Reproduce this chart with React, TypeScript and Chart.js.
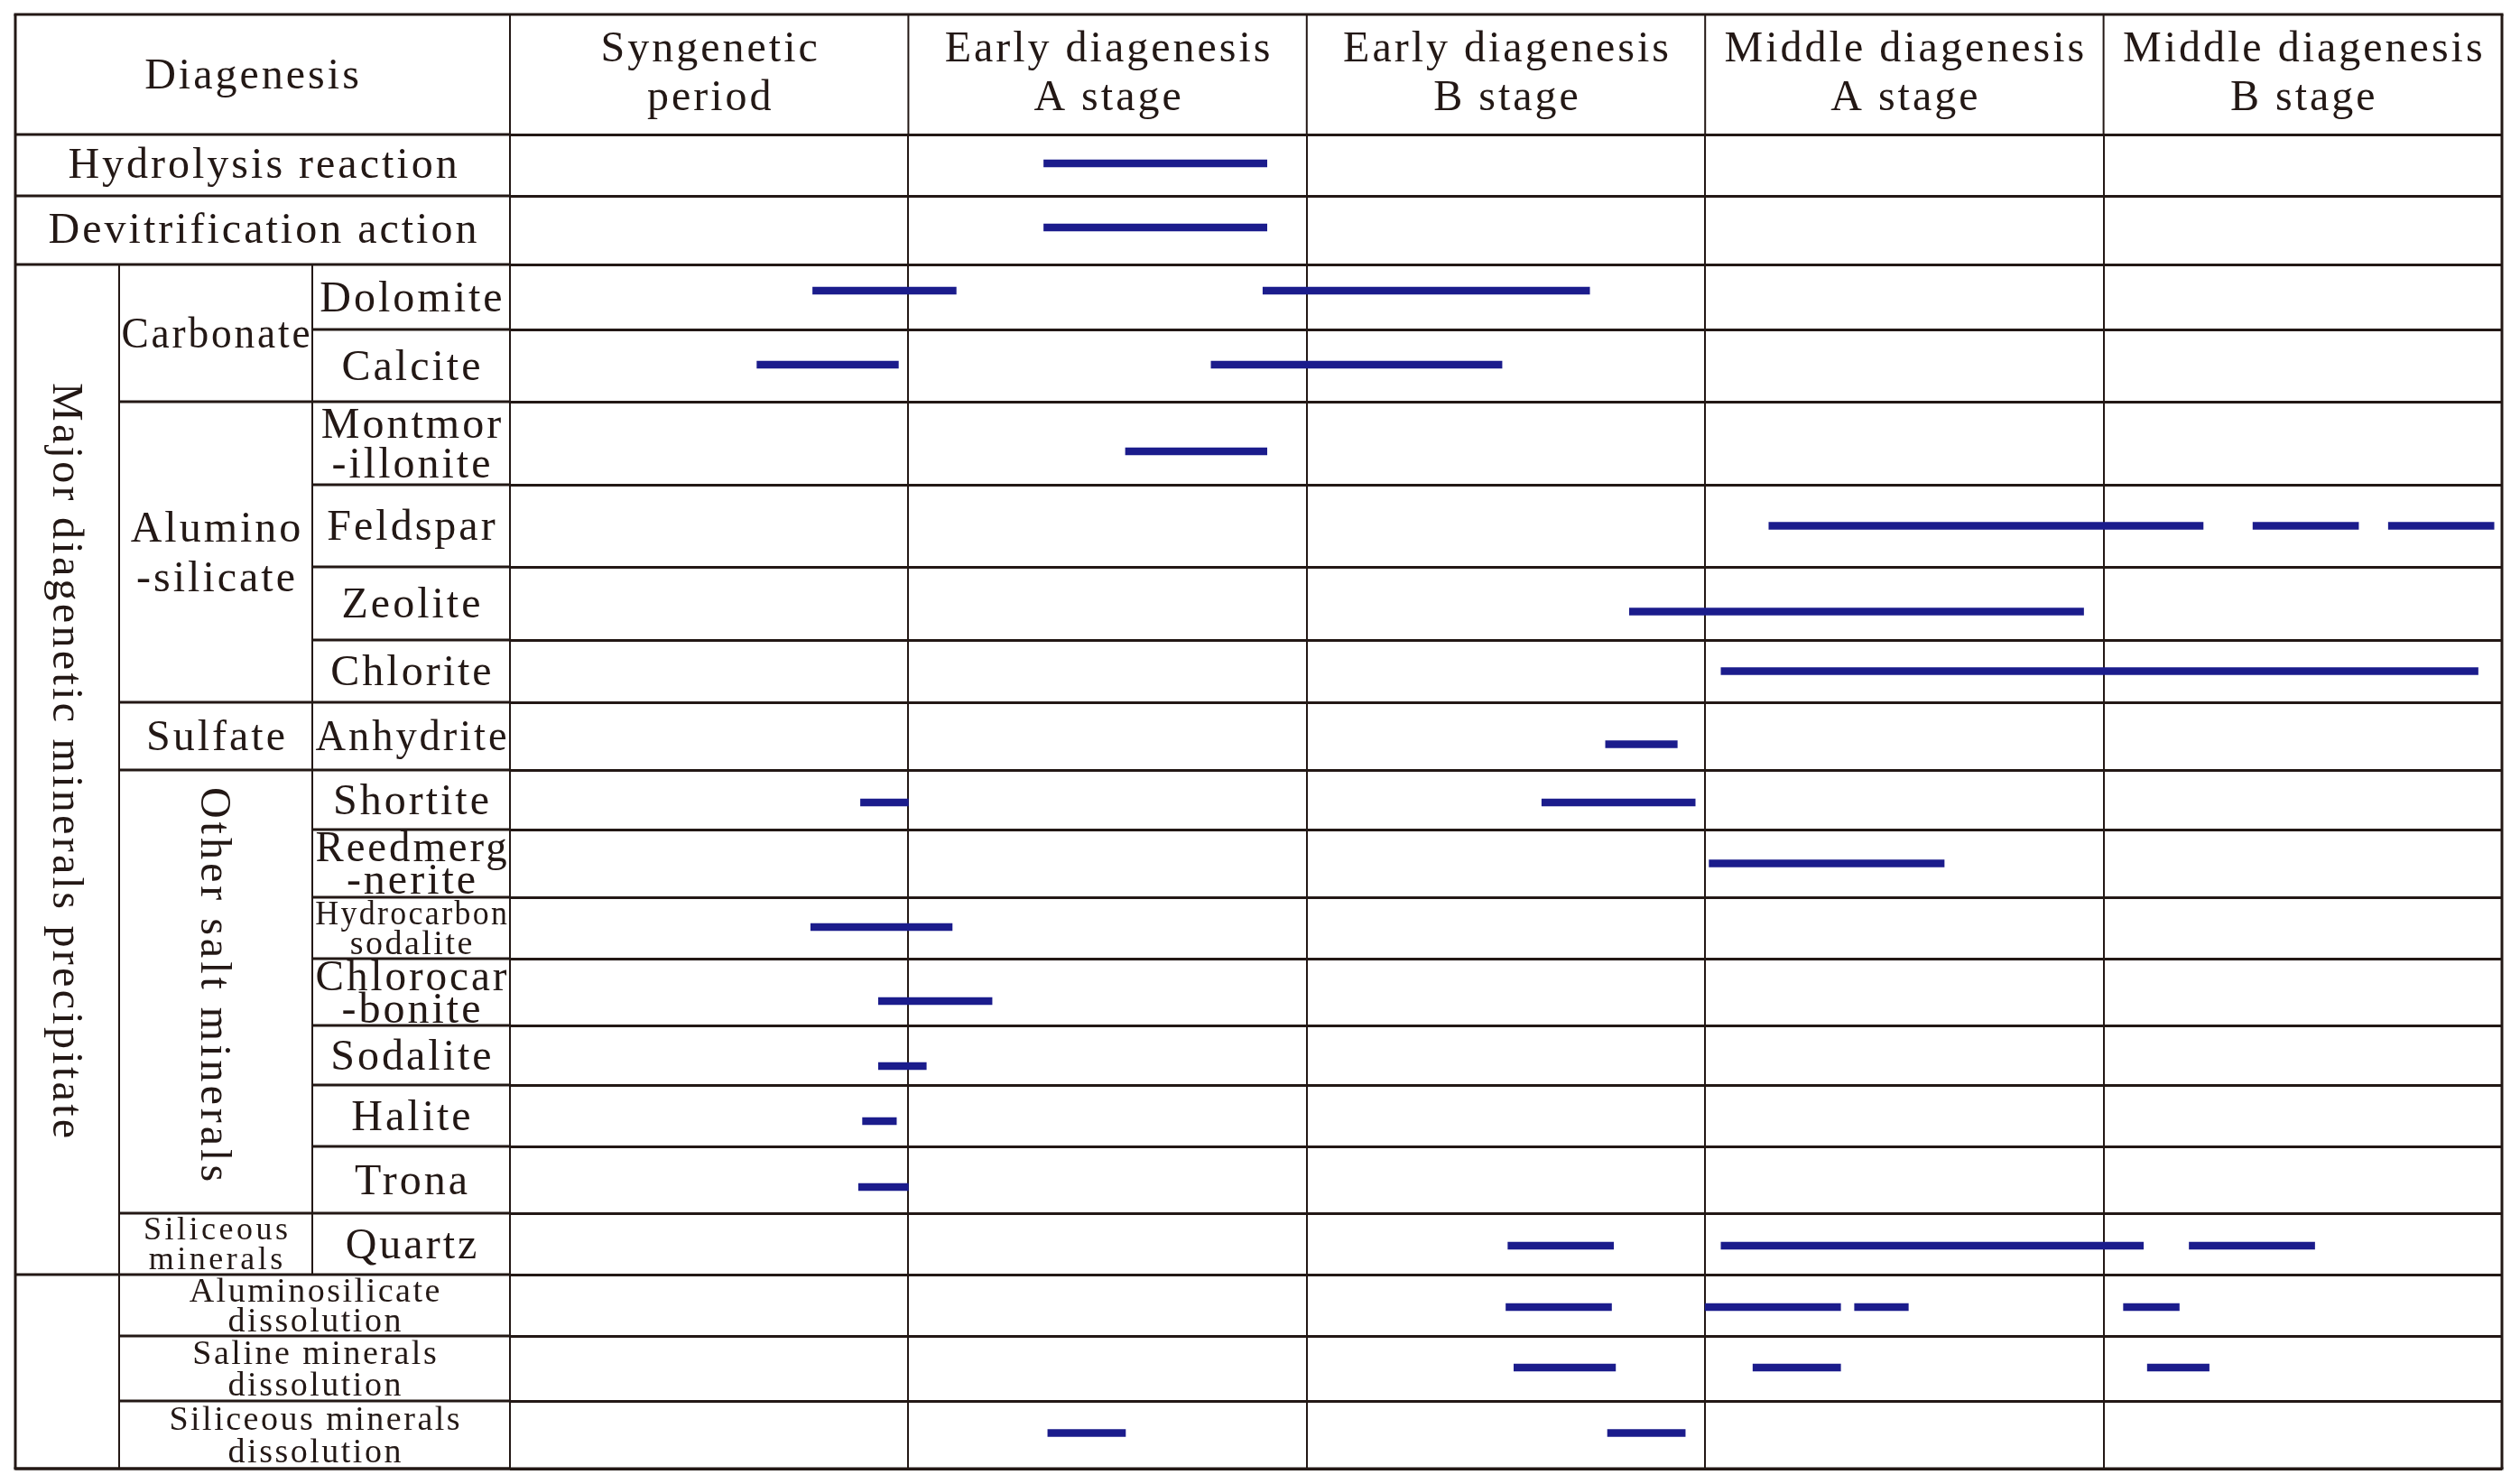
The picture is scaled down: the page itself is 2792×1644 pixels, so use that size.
import { useEffect, useRef } from "react";
import { Chart, registerables } from "chart.js";

Chart.register(...registerables);

// ---------------- data ----------------
const HEADER_TITLE = "Diagenesis";
const STAGE_TITLES: string[][] = [
  ["Syngenetic", "period"],
  ["Early diagenesis", "A stage"],
  ["Early diagenesis", "B stage"],
  ["Middle diagenesis", "A stage"],
  ["Middle diagenesis", "B stage"],
];
const STAGE_TICKS = [0, 1, 2, 3, 4, 5];

const PROCESSES = [
  "Hydrolysis reaction",
  "Devitrification action",
  "Dolomite",
  "Calcite",
  "Montmor\n-illonite",
  "Feldspar",
  "Zeolite",
  "Chlorite",
  "Anhydrite",
  "Shortite",
  "Reedmerg\n-nerite",
  "Hydrocarbon\nsodalite",
  "Chlorocar\n-bonite",
  "Sodalite",
  "Halite",
  "Trona",
  "Quartz",
  "Aluminosilicate\ndissolution",
  "Saline minerals\ndissolution",
  "Siliceous minerals\ndissolution",
];

// time ranges (in stage units: 0 = start of syngenetic period, 5 = end of middle diagenesis B)
const PROCESS_RANGES: [number, number][][] = [
  [[1.34, 1.9]],
  [[1.34, 1.9]],
  [[0.76, 1.12], [1.89, 2.71]],
  [[0.62, 0.975], [1.76, 2.49]],
  [[1.545, 1.9]],
  [[3.16, 4.25], [4.375, 4.64], [4.715, 4.98]],
  [[2.81, 3.95]],
  [[3.04, 4.94]],
  [[2.75, 2.93]],
  [[0.88, 1.0], [2.59, 2.975]],
  [[3.01, 3.6]],
  [[0.755, 1.11]],
  [[0.925, 1.21]],
  [[0.925, 1.045]],
  [[0.885, 0.97]],
  [[0.875, 1.0]],
  [[2.505, 2.77], [3.04, 4.1], [4.215, 4.53]],
  [[2.5, 2.765], [3.0, 3.34], [3.375, 3.51], [4.05, 4.19]],
  [[2.52, 2.775], [3.12, 3.34], [4.11, 4.265]],
  [[1.35, 1.545], [2.755, 2.95]],
];

const SECTION_TITLE = "Major diagenetic minerals precipitate";
const GROUPS = [
  { name: "Carbonate", from: 2, to: 3 },
  { name: "Alumino\n-silicate", from: 4, to: 7 },
  { name: "Sulfate", from: 8, to: 8 },
  { name: "Other salt minerals", from: 9, to: 15, vertical: true },
  { name: "Siliceous\nminerals", from: 16, to: 16, small: true },
];

// ---------------- layout / style ----------------
const W = 2792;
const H = 1644;
const ROW_HEIGHTS = [68, 76, 72, 80, 92, 91, 81, 69, 75, 66, 75, 68, 74, 66, 68, 74, 68, 68, 72, 75];
// vertical nudge of the bar inside its row (row-height units), as drawn in the original
const ROW_BAR_SHIFT = [-2, -3, -7, -1, 9, 0, 9, 0, 9, 3, 0, -1, 10, 12, 6, 8, 2, 2, -1, -2];
const ROW_BOUNDS: number[] = ROW_HEIGHTS.reduce(
  (acc: number[], h) => {
    acc.push(acc[acc.length - 1] + h);
    return acc;
  },
  [0]
);
const TOTAL = ROW_BOUNDS[ROW_BOUNDS.length - 1];
const LINE_START = ["A", "A", "A", "C", "B", "C", "C", "C", "B", "B", "C", "C", "C", "C", "C", "C", "B", "A", "B", "B", "A"];
const SMALL_LABEL_ROWS = [11, 17, 18, 19];
const COL_W = [115, 214, 219];
const HEADER_H = 133;
const INK = "#231815";
const BAR = "#1b1c8c";
const FONT = '"Liberation Serif", "Times New Roman", serif';

function drawLabel(
  ctx: CanvasRenderingContext2D,
  text: string,
  cx: number,
  cy: number,
  size: number,
  gap: number,
  spacing: number,
  maxW: number
) {
  const lines = text.split("\n");
  ctx.font = `${size}px ${FONT}`;
  (ctx as any).letterSpacing = `${spacing}px`;
  ctx.textAlign = "center";
  ctx.textBaseline = "alphabetic";
  const capHalf = size * 0.33;
  lines.forEach((ln, i) => {
    const by = cy + (i - (lines.length - 1) / 2) * gap + capHalf;
    ctx.fillText(ln, cx + spacing / 2, by, maxW);
  });
}

const tablePlugin = {
  id: "diagenesisTable",
  afterDraw(chart: any) {
    const { ctx, chartArea: ca } = chart;
    const xs = chart.scales.x;
    const ys = chart.scales.y;
    const L = ca.left,
      R = ca.right,
      T = ca.top,
      B = ca.bottom;
    const xC = L - COL_W[2];
    const xB = xC - COL_W[1];
    const xA = xB - COL_W[0];
    const top = T - HEADER_H;
    const yAt = (i: number) => ys.getPixelForValue(ROW_BOUNDS[i]);

    ctx.save();
    ctx.strokeStyle = INK;
    ctx.fillStyle = INK;
    const hline = (x1: number, x2: number, y: number, w: number) => {
      ctx.lineWidth = w;
      ctx.beginPath();
      ctx.moveTo(x1, y);
      ctx.lineTo(x2, y);
      ctx.stroke();
    };
    const vline = (x: number, y1: number, y2: number, w: number) => {
      ctx.lineWidth = w;
      ctx.beginPath();
      ctx.moveTo(x, y1);
      ctx.lineTo(x, y2);
      ctx.stroke();
    };

    // header frame
    STAGE_TICKS.forEach((t) => vline(xs.getPixelForValue(t), top, T, 2));
    // left-area horizontal lines
    ROW_BOUNDS.forEach((_, i) => {
      const s = LINE_START[i];
      const x1 = s === "A" ? xA : s === "B" ? xB : xC;
      hline(x1, L, yAt(i), 3);
    });
    vline(xB, yAt(2), B, 2);
    vline(xC, yAt(2), yAt(17), 2);
    vline(L, top, B, 2);
    // outer frame
    hline(xA - 1.5, R + 1.5, top, 3);
    hline(xA - 1.5, R + 1.5, B, 3);
    vline(xA, top, B, 3);
    vline(R, top, B, 3);

    // header text
    drawLabel(ctx, HEADER_TITLE, (xA + L) / 2 - 12, (top + T) / 2, 48, 54, 3, L - xA - 8);
    STAGE_TITLES.forEach((lines, i) => {
      const x0 = xs.getPixelForValue(i);
      const x1 = xs.getPixelForValue(i + 1);
      drawLabel(ctx, lines.join("\n"), (x0 + x1) / 2, (top + T) / 2 - 3, 48, 54, 3, x1 - x0 - 6);
    });

    // row labels
    PROCESSES.forEach((name, r) => {
      const cy = (yAt(r) + yAt(r + 1)) / 2;
      const rh = yAt(r + 1) - yAt(r);
      let x1 = xC;
      if (r < 2) x1 = xA;
      else if (r >= 17) x1 = xB;
      const small = SMALL_LABEL_ROWS.includes(r);
      const size = small ? 38 : 48;
      drawLabel(ctx, name, (x1 + L) / 2, cy - (r < 2 ? 2 : 0), size, rh * 0.48, small ? 2.5 : 3, L - x1 - 4);
    });

    // group labels
    GROUPS.forEach((g: any) => {
      const y0 = yAt(g.from);
      const y1 = yAt(g.to + 1);
      const cy = (y0 + y1) / 2;
      const cx = (xB + xC) / 2;
      if (g.vertical) {
        ctx.save();
        ctx.translate(cx, cy - 8);
        ctx.rotate(Math.PI / 2);
        drawLabel(ctx, g.name, 0, 0, 48, 54, 4, y1 - y0);
        ctx.restore();
      } else if (g.small) {
        drawLabel(ctx, g.name, cx, cy, 36, 33, 3.5, COL_W[1] - 4);
      } else {
        drawLabel(ctx, g.name, cx, cy, 48, 55, 3, COL_W[1] - 2);
      }
    });

    // section label (vertical)
    {
      const y0 = yAt(2);
      const y1 = yAt(17);
      ctx.save();
      ctx.translate((xA + xB) / 2, (y0 + y1) / 2 - 10);
      ctx.rotate(Math.PI / 2);
      drawLabel(ctx, SECTION_TITLE, 0, 0, 48, 54, 3.3, y1 - y0);
      ctx.restore();
    }
    ctx.restore();
  },
};

export default function App() {
  const ref = useRef<HTMLCanvasElement>(null);
  useEffect(() => {
    const points: { x: [number, number]; y: number }[] = [];
    PROCESS_RANGES.forEach((ranges, r) => {
      const center = (ROW_BOUNDS[r] + ROW_BOUNDS[r + 1]) / 2 + ROW_BAR_SHIFT[r];
      ranges.forEach((rg) => points.push({ x: [rg[0], rg[1]], y: center }));
    });
    const chart = new Chart(ref.current as HTMLCanvasElement, {
      type: "bar",
      data: {
        datasets: [
          {
            label: "Diagenetic events",
            data: points as any,
            backgroundColor: BAR,
            borderWidth: 0,
            barThickness: 8,
          } as any,
        ],
      },
      options: {
        indexAxis: "y",
        responsive: false,
        animation: false,
        layout: { padding: { left: 565, top: 149, right: 20, bottom: 17 } },
        plugins: { legend: { display: false }, tooltip: { enabled: false } },
        scales: {
          x: {
            type: "linear",
            min: 0,
            max: 5,
            z: 1,
            offset: false,
            ticks: { display: false, stepSize: 1 },
            grid: { color: INK, lineWidth: 2, drawTicks: false, offset: false },
            border: { display: false },
          },
          y: {
            type: "linear",
            reverse: true,
            min: 0,
            max: TOTAL,
            offset: false,
            afterBuildTicks: (axis: any) => {
              axis.ticks = ROW_BOUNDS.map((v) => ({ value: v }));
            },
            ticks: { display: false },
            grid: { color: INK, lineWidth: 3, drawTicks: false, offset: false },
            border: { display: false },
          },
        },
      } as any,
      plugins: [tablePlugin],
    });
    return () => chart.destroy();
  }, []);
  return (
    <div style={{ position: "absolute", left: 0, top: 0, width: W, height: H, background: "#fff" }}>
      <canvas ref={ref} width={W} height={H} style={{ display: "block", width: W, height: H }} />
    </div>
  );
}
